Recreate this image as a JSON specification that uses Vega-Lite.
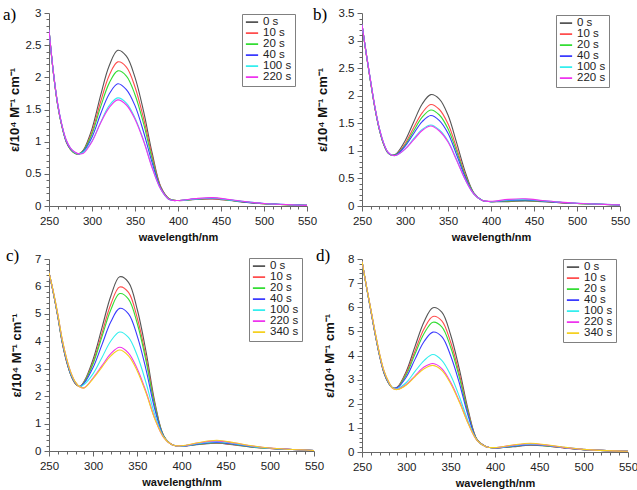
{
"$schema": "https://vega.github.io/schema/vega-lite/v6.json",
"background": "white",
"padding": {"left": 3, "top": 6, "right": 2, "bottom": 2},
"bounds": "flush",
"columns": 2,
"spacing": {"row": 53, "column": 48},
"resolve": {"scale": {"color": "independent"}, "legend": {"color": "independent"}},
"datasets": {
"a": [
{"t":"0 s","w":250,"e":2.74},{"t":"0 s","w":255,"e":2.08},{"t":"0 s","w":260,"e":1.58},{"t":"0 s","w":265,"e":1.24},{"t":"0 s","w":270,"e":1.00},{"t":"0 s","w":275,"e":0.88},{"t":"0 s","w":280,"e":0.82},{"t":"0 s","w":285,"e":0.81},{"t":"0 s","w":290,"e":0.87},{"t":"0 s","w":300,"e":1.20},{"t":"0 s","w":310,"e":1.72},{"t":"0 s","w":320,"e":2.18},{"t":"0 s","w":330,"e":2.42},{"t":"0 s","w":340,"e":2.33},{"t":"0 s","w":350,"e":2.00},{"t":"0 s","w":360,"e":1.47},{"t":"0 s","w":370,"e":0.82},{"t":"0 s","w":380,"e":0.30},{"t":"0 s","w":390,"e":0.11},{"t":"0 s","w":400,"e":0.085},{"t":"0 s","w":420,"e":0.10},{"t":"0 s","w":440,"e":0.11},{"t":"0 s","w":460,"e":0.085},{"t":"0 s","w":480,"e":0.055},{"t":"0 s","w":500,"e":0.035},{"t":"0 s","w":550,"e":0.01},
{"t":"10 s","w":250,"e":2.74},{"t":"10 s","w":255,"e":2.08},{"t":"10 s","w":260,"e":1.58},{"t":"10 s","w":265,"e":1.24},{"t":"10 s","w":270,"e":1.00},{"t":"10 s","w":275,"e":0.88},{"t":"10 s","w":280,"e":0.82},{"t":"10 s","w":285,"e":0.81},{"t":"10 s","w":290,"e":0.86},{"t":"10 s","w":300,"e":1.15},{"t":"10 s","w":310,"e":1.62},{"t":"10 s","w":320,"e":2.03},{"t":"10 s","w":330,"e":2.24},{"t":"10 s","w":340,"e":2.16},{"t":"10 s","w":350,"e":1.85},{"t":"10 s","w":360,"e":1.36},{"t":"10 s","w":370,"e":0.77},{"t":"10 s","w":380,"e":0.29},{"t":"10 s","w":390,"e":0.11},{"t":"10 s","w":400,"e":0.085},{"t":"10 s","w":420,"e":0.105},{"t":"10 s","w":440,"e":0.115},{"t":"10 s","w":460,"e":0.09},{"t":"10 s","w":480,"e":0.06},{"t":"10 s","w":500,"e":0.035},{"t":"10 s","w":550,"e":0.01},
{"t":"20 s","w":250,"e":2.74},{"t":"20 s","w":255,"e":2.08},{"t":"20 s","w":260,"e":1.58},{"t":"20 s","w":265,"e":1.24},{"t":"20 s","w":270,"e":1.01},{"t":"20 s","w":275,"e":0.88},{"t":"20 s","w":280,"e":0.82},{"t":"20 s","w":285,"e":0.81},{"t":"20 s","w":290,"e":0.86},{"t":"20 s","w":300,"e":1.12},{"t":"20 s","w":310,"e":1.54},{"t":"20 s","w":320,"e":1.91},{"t":"20 s","w":330,"e":2.10},{"t":"20 s","w":340,"e":2.02},{"t":"20 s","w":350,"e":1.73},{"t":"20 s","w":360,"e":1.28},{"t":"20 s","w":370,"e":0.73},{"t":"20 s","w":380,"e":0.28},{"t":"20 s","w":390,"e":0.11},{"t":"20 s","w":400,"e":0.085},{"t":"20 s","w":420,"e":0.105},{"t":"20 s","w":440,"e":0.12},{"t":"20 s","w":460,"e":0.09},{"t":"20 s","w":480,"e":0.06},{"t":"20 s","w":500,"e":0.035},{"t":"20 s","w":550,"e":0.01},
{"t":"40 s","w":250,"e":2.74},{"t":"40 s","w":255,"e":2.09},{"t":"40 s","w":260,"e":1.59},{"t":"40 s","w":265,"e":1.25},{"t":"40 s","w":270,"e":1.01},{"t":"40 s","w":275,"e":0.89},{"t":"40 s","w":280,"e":0.83},{"t":"40 s","w":285,"e":0.81},{"t":"40 s","w":290,"e":0.85},{"t":"40 s","w":300,"e":1.07},{"t":"40 s","w":310,"e":1.43},{"t":"40 s","w":320,"e":1.74},{"t":"40 s","w":330,"e":1.90},{"t":"40 s","w":340,"e":1.81},{"t":"40 s","w":350,"e":1.56},{"t":"40 s","w":360,"e":1.15},{"t":"40 s","w":370,"e":0.67},{"t":"40 s","w":380,"e":0.27},{"t":"40 s","w":390,"e":0.10},{"t":"40 s","w":400,"e":0.085},{"t":"40 s","w":420,"e":0.11},{"t":"40 s","w":440,"e":0.12},{"t":"40 s","w":460,"e":0.095},{"t":"40 s","w":480,"e":0.06},{"t":"40 s","w":500,"e":0.04},{"t":"40 s","w":550,"e":0.01},
{"t":"100 s","w":250,"e":2.74},{"t":"100 s","w":255,"e":2.09},{"t":"100 s","w":260,"e":1.60},{"t":"100 s","w":265,"e":1.26},{"t":"100 s","w":270,"e":1.02},{"t":"100 s","w":275,"e":0.90},{"t":"100 s","w":280,"e":0.83},{"t":"100 s","w":285,"e":0.81},{"t":"100 s","w":290,"e":0.835},{"t":"100 s","w":300,"e":1.01},{"t":"100 s","w":310,"e":1.30},{"t":"100 s","w":320,"e":1.56},{"t":"100 s","w":330,"e":1.68},{"t":"100 s","w":340,"e":1.60},{"t":"100 s","w":350,"e":1.37},{"t":"100 s","w":360,"e":1.02},{"t":"100 s","w":370,"e":0.60},{"t":"100 s","w":380,"e":0.26},{"t":"100 s","w":390,"e":0.10},{"t":"100 s","w":400,"e":0.085},{"t":"100 s","w":420,"e":0.11},{"t":"100 s","w":440,"e":0.125},{"t":"100 s","w":460,"e":0.095},{"t":"100 s","w":480,"e":0.065},{"t":"100 s","w":500,"e":0.04},{"t":"100 s","w":550,"e":0.01},
{"t":"220 s","w":250,"e":2.74},{"t":"220 s","w":255,"e":2.09},{"t":"220 s","w":260,"e":1.60},{"t":"220 s","w":265,"e":1.26},{"t":"220 s","w":270,"e":1.03},{"t":"220 s","w":275,"e":0.90},{"t":"220 s","w":280,"e":0.84},{"t":"220 s","w":285,"e":0.81},{"t":"220 s","w":290,"e":0.82},{"t":"220 s","w":300,"e":1.00},{"t":"220 s","w":310,"e":1.29},{"t":"220 s","w":320,"e":1.53},{"t":"220 s","w":330,"e":1.65},{"t":"220 s","w":340,"e":1.57},{"t":"220 s","w":350,"e":1.35},{"t":"220 s","w":360,"e":1.01},{"t":"220 s","w":370,"e":0.59},{"t":"220 s","w":380,"e":0.26},{"t":"220 s","w":390,"e":0.10},{"t":"220 s","w":400,"e":0.085},{"t":"220 s","w":420,"e":0.115},{"t":"220 s","w":440,"e":0.13},{"t":"220 s","w":460,"e":0.10},{"t":"220 s","w":480,"e":0.065},{"t":"220 s","w":500,"e":0.04},{"t":"220 s","w":550,"e":0.01}
],
"b": [
{"t":"0 s","w":250,"e":3.29},{"t":"0 s","w":255,"e":2.75},{"t":"0 s","w":260,"e":2.25},{"t":"0 s","w":265,"e":1.78},{"t":"0 s","w":270,"e":1.40},{"t":"0 s","w":275,"e":1.13},{"t":"0 s","w":280,"e":0.97},{"t":"0 s","w":285,"e":0.92},{"t":"0 s","w":290,"e":0.95},{"t":"0 s","w":300,"e":1.18},{"t":"0 s","w":310,"e":1.52},{"t":"0 s","w":320,"e":1.85},{"t":"0 s","w":330,"e":2.02},{"t":"0 s","w":340,"e":1.94},{"t":"0 s","w":350,"e":1.65},{"t":"0 s","w":360,"e":1.15},{"t":"0 s","w":370,"e":0.62},{"t":"0 s","w":380,"e":0.24},{"t":"0 s","w":390,"e":0.10},{"t":"0 s","w":400,"e":0.08},{"t":"0 s","w":420,"e":0.08},{"t":"0 s","w":440,"e":0.09},{"t":"0 s","w":460,"e":0.08},{"t":"0 s","w":480,"e":0.06},{"t":"0 s","w":500,"e":0.045},{"t":"0 s","w":550,"e":0.02},
{"t":"10 s","w":250,"e":3.29},{"t":"10 s","w":255,"e":2.75},{"t":"10 s","w":260,"e":2.25},{"t":"10 s","w":265,"e":1.78},{"t":"10 s","w":270,"e":1.40},{"t":"10 s","w":275,"e":1.13},{"t":"10 s","w":280,"e":0.97},{"t":"10 s","w":285,"e":0.92},{"t":"10 s","w":290,"e":0.94},{"t":"10 s","w":300,"e":1.13},{"t":"10 s","w":310,"e":1.42},{"t":"10 s","w":320,"e":1.69},{"t":"10 s","w":330,"e":1.84},{"t":"10 s","w":340,"e":1.75},{"t":"10 s","w":350,"e":1.49},{"t":"10 s","w":360,"e":1.05},{"t":"10 s","w":370,"e":0.57},{"t":"10 s","w":380,"e":0.23},{"t":"10 s","w":390,"e":0.10},{"t":"10 s","w":400,"e":0.08},{"t":"10 s","w":420,"e":0.09},{"t":"10 s","w":440,"e":0.10},{"t":"10 s","w":460,"e":0.085},{"t":"10 s","w":480,"e":0.06},{"t":"10 s","w":500,"e":0.045},{"t":"10 s","w":550,"e":0.02},
{"t":"20 s","w":250,"e":3.29},{"t":"20 s","w":255,"e":2.75},{"t":"20 s","w":260,"e":2.25},{"t":"20 s","w":265,"e":1.78},{"t":"20 s","w":270,"e":1.40},{"t":"20 s","w":275,"e":1.13},{"t":"20 s","w":280,"e":0.97},{"t":"20 s","w":285,"e":0.92},{"t":"20 s","w":290,"e":0.94},{"t":"20 s","w":300,"e":1.10},{"t":"20 s","w":310,"e":1.36},{"t":"20 s","w":320,"e":1.61},{"t":"20 s","w":330,"e":1.74},{"t":"20 s","w":340,"e":1.65},{"t":"20 s","w":350,"e":1.40},{"t":"20 s","w":360,"e":0.99},{"t":"20 s","w":370,"e":0.55},{"t":"20 s","w":380,"e":0.23},{"t":"20 s","w":390,"e":0.10},{"t":"20 s","w":400,"e":0.08},{"t":"20 s","w":420,"e":0.09},{"t":"20 s","w":440,"e":0.10},{"t":"20 s","w":460,"e":0.085},{"t":"20 s","w":480,"e":0.065},{"t":"20 s","w":500,"e":0.045},{"t":"20 s","w":550,"e":0.02},
{"t":"40 s","w":250,"e":3.29},{"t":"40 s","w":255,"e":2.76},{"t":"40 s","w":260,"e":2.26},{"t":"40 s","w":265,"e":1.79},{"t":"40 s","w":270,"e":1.41},{"t":"40 s","w":275,"e":1.14},{"t":"40 s","w":280,"e":0.97},{"t":"40 s","w":285,"e":0.92},{"t":"40 s","w":290,"e":0.93},{"t":"40 s","w":300,"e":1.08},{"t":"40 s","w":310,"e":1.31},{"t":"40 s","w":320,"e":1.53},{"t":"40 s","w":330,"e":1.64},{"t":"40 s","w":340,"e":1.55},{"t":"40 s","w":350,"e":1.32},{"t":"40 s","w":360,"e":0.93},{"t":"40 s","w":370,"e":0.52},{"t":"40 s","w":380,"e":0.22},{"t":"40 s","w":390,"e":0.10},{"t":"40 s","w":400,"e":0.08},{"t":"40 s","w":420,"e":0.10},{"t":"40 s","w":440,"e":0.11},{"t":"40 s","w":460,"e":0.09},{"t":"40 s","w":480,"e":0.065},{"t":"40 s","w":500,"e":0.05},{"t":"40 s","w":550,"e":0.02},
{"t":"100 s","w":250,"e":3.29},{"t":"100 s","w":255,"e":2.76},{"t":"100 s","w":260,"e":2.27},{"t":"100 s","w":265,"e":1.80},{"t":"100 s","w":270,"e":1.42},{"t":"100 s","w":275,"e":1.15},{"t":"100 s","w":280,"e":0.98},{"t":"100 s","w":285,"e":0.92},{"t":"100 s","w":290,"e":0.92},{"t":"100 s","w":300,"e":1.03},{"t":"100 s","w":310,"e":1.22},{"t":"100 s","w":320,"e":1.39},{"t":"100 s","w":330,"e":1.47},{"t":"100 s","w":340,"e":1.38},{"t":"100 s","w":350,"e":1.18},{"t":"100 s","w":360,"e":0.84},{"t":"100 s","w":370,"e":0.48},{"t":"100 s","w":380,"e":0.22},{"t":"100 s","w":390,"e":0.10},{"t":"100 s","w":400,"e":0.08},{"t":"100 s","w":420,"e":0.11},{"t":"100 s","w":440,"e":0.12},{"t":"100 s","w":460,"e":0.095},{"t":"100 s","w":480,"e":0.07},{"t":"100 s","w":500,"e":0.05},{"t":"100 s","w":550,"e":0.02},
{"t":"220 s","w":250,"e":3.29},{"t":"220 s","w":255,"e":2.76},{"t":"220 s","w":260,"e":2.27},{"t":"220 s","w":265,"e":1.80},{"t":"220 s","w":270,"e":1.42},{"t":"220 s","w":275,"e":1.15},{"t":"220 s","w":280,"e":0.98},{"t":"220 s","w":285,"e":0.92},{"t":"220 s","w":290,"e":0.92},{"t":"220 s","w":300,"e":1.03},{"t":"220 s","w":310,"e":1.20},{"t":"220 s","w":320,"e":1.37},{"t":"220 s","w":330,"e":1.45},{"t":"220 s","w":340,"e":1.36},{"t":"220 s","w":350,"e":1.16},{"t":"220 s","w":360,"e":0.83},{"t":"220 s","w":370,"e":0.48},{"t":"220 s","w":380,"e":0.22},{"t":"220 s","w":390,"e":0.10},{"t":"220 s","w":400,"e":0.085},{"t":"220 s","w":420,"e":0.12},{"t":"220 s","w":440,"e":0.13},{"t":"220 s","w":460,"e":0.10},{"t":"220 s","w":480,"e":0.07},{"t":"220 s","w":500,"e":0.05},{"t":"220 s","w":550,"e":0.02}
],
"c": [
{"t":"0 s","w":250,"e":6.50},{"t":"0 s","w":255,"e":5.75},{"t":"0 s","w":260,"e":4.90},{"t":"0 s","w":265,"e":3.95},{"t":"0 s","w":270,"e":3.25},{"t":"0 s","w":275,"e":2.75},{"t":"0 s","w":280,"e":2.45},{"t":"0 s","w":285,"e":2.35},{"t":"0 s","w":290,"e":2.55},{"t":"0 s","w":300,"e":3.35},{"t":"0 s","w":310,"e":4.50},{"t":"0 s","w":320,"e":5.65},{"t":"0 s","w":330,"e":6.35},{"t":"0 s","w":340,"e":6.15},{"t":"0 s","w":350,"e":5.15},{"t":"0 s","w":360,"e":3.60},{"t":"0 s","w":370,"e":1.75},{"t":"0 s","w":380,"e":0.55},{"t":"0 s","w":390,"e":0.22},{"t":"0 s","w":400,"e":0.18},{"t":"0 s","w":420,"e":0.24},{"t":"0 s","w":440,"e":0.28},{"t":"0 s","w":460,"e":0.22},{"t":"0 s","w":480,"e":0.14},{"t":"0 s","w":500,"e":0.09},{"t":"0 s","w":550,"e":0.02},
{"t":"10 s","w":250,"e":6.50},{"t":"10 s","w":255,"e":5.75},{"t":"10 s","w":260,"e":4.90},{"t":"10 s","w":265,"e":3.95},{"t":"10 s","w":270,"e":3.25},{"t":"10 s","w":275,"e":2.75},{"t":"10 s","w":280,"e":2.45},{"t":"10 s","w":285,"e":2.35},{"t":"10 s","w":290,"e":2.53},{"t":"10 s","w":300,"e":3.25},{"t":"10 s","w":310,"e":4.30},{"t":"10 s","w":320,"e":5.35},{"t":"10 s","w":330,"e":5.98},{"t":"10 s","w":340,"e":5.78},{"t":"10 s","w":350,"e":4.84},{"t":"10 s","w":360,"e":3.39},{"t":"10 s","w":370,"e":1.67},{"t":"10 s","w":380,"e":0.54},{"t":"10 s","w":390,"e":0.22},{"t":"10 s","w":400,"e":0.18},{"t":"10 s","w":420,"e":0.25},{"t":"10 s","w":440,"e":0.29},{"t":"10 s","w":460,"e":0.23},{"t":"10 s","w":480,"e":0.15},{"t":"10 s","w":500,"e":0.09},{"t":"10 s","w":550,"e":0.02},
{"t":"20 s","w":250,"e":6.50},{"t":"20 s","w":255,"e":5.75},{"t":"20 s","w":260,"e":4.91},{"t":"20 s","w":265,"e":3.97},{"t":"20 s","w":270,"e":3.27},{"t":"20 s","w":275,"e":2.76},{"t":"20 s","w":280,"e":2.46},{"t":"20 s","w":285,"e":2.35},{"t":"20 s","w":290,"e":2.51},{"t":"20 s","w":300,"e":3.19},{"t":"20 s","w":310,"e":4.17},{"t":"20 s","w":320,"e":5.15},{"t":"20 s","w":330,"e":5.74},{"t":"20 s","w":340,"e":5.54},{"t":"20 s","w":350,"e":4.64},{"t":"20 s","w":360,"e":3.26},{"t":"20 s","w":370,"e":1.61},{"t":"20 s","w":380,"e":0.54},{"t":"20 s","w":390,"e":0.22},{"t":"20 s","w":400,"e":0.18},{"t":"20 s","w":420,"e":0.25},{"t":"20 s","w":440,"e":0.30},{"t":"20 s","w":460,"e":0.24},{"t":"20 s","w":480,"e":0.15},{"t":"20 s","w":500,"e":0.10},{"t":"20 s","w":550,"e":0.02},
{"t":"40 s","w":250,"e":6.50},{"t":"40 s","w":255,"e":5.76},{"t":"40 s","w":260,"e":4.93},{"t":"40 s","w":265,"e":3.99},{"t":"40 s","w":270,"e":3.29},{"t":"40 s","w":275,"e":2.78},{"t":"40 s","w":280,"e":2.47},{"t":"40 s","w":285,"e":2.35},{"t":"40 s","w":290,"e":2.48},{"t":"40 s","w":300,"e":3.05},{"t":"40 s","w":310,"e":3.88},{"t":"40 s","w":320,"e":4.71},{"t":"40 s","w":330,"e":5.20},{"t":"40 s","w":340,"e":5.00},{"t":"40 s","w":350,"e":4.18},{"t":"40 s","w":360,"e":2.95},{"t":"40 s","w":370,"e":1.49},{"t":"40 s","w":380,"e":0.52},{"t":"40 s","w":390,"e":0.22},{"t":"40 s","w":400,"e":0.18},{"t":"40 s","w":420,"e":0.26},{"t":"40 s","w":440,"e":0.31},{"t":"40 s","w":460,"e":0.25},{"t":"40 s","w":480,"e":0.16},{"t":"40 s","w":500,"e":0.10},{"t":"40 s","w":550,"e":0.02},
{"t":"100 s","w":250,"e":6.50},{"t":"100 s","w":255,"e":5.78},{"t":"100 s","w":260,"e":4.96},{"t":"100 s","w":265,"e":4.03},{"t":"100 s","w":270,"e":3.33},{"t":"100 s","w":275,"e":2.81},{"t":"100 s","w":280,"e":2.49},{"t":"100 s","w":285,"e":2.35},{"t":"100 s","w":290,"e":2.43},{"t":"100 s","w":300,"e":2.82},{"t":"100 s","w":310,"e":3.41},{"t":"100 s","w":320,"e":4.01},{"t":"100 s","w":330,"e":4.34},{"t":"100 s","w":340,"e":4.14},{"t":"100 s","w":350,"e":3.47},{"t":"100 s","w":360,"e":2.47},{"t":"100 s","w":370,"e":1.30},{"t":"100 s","w":380,"e":0.51},{"t":"100 s","w":390,"e":0.22},{"t":"100 s","w":400,"e":0.18},{"t":"100 s","w":420,"e":0.28},{"t":"100 s","w":440,"e":0.34},{"t":"100 s","w":460,"e":0.27},{"t":"100 s","w":480,"e":0.17},{"t":"100 s","w":500,"e":0.10},{"t":"100 s","w":550,"e":0.02},
{"t":"220 s","w":250,"e":6.50},{"t":"220 s","w":255,"e":5.79},{"t":"220 s","w":260,"e":4.98},{"t":"220 s","w":265,"e":4.06},{"t":"220 s","w":270,"e":3.36},{"t":"220 s","w":275,"e":2.84},{"t":"220 s","w":280,"e":2.50},{"t":"220 s","w":285,"e":2.33},{"t":"220 s","w":290,"e":2.31},{"t":"220 s","w":300,"e":2.67},{"t":"220 s","w":310,"e":3.11},{"t":"220 s","w":320,"e":3.55},{"t":"220 s","w":330,"e":3.78},{"t":"220 s","w":340,"e":3.57},{"t":"220 s","w":350,"e":2.99},{"t":"220 s","w":360,"e":2.15},{"t":"220 s","w":370,"e":1.17},{"t":"220 s","w":380,"e":0.49},{"t":"220 s","w":390,"e":0.22},{"t":"220 s","w":400,"e":0.19},{"t":"220 s","w":420,"e":0.30},{"t":"220 s","w":440,"e":0.37},{"t":"220 s","w":460,"e":0.29},{"t":"220 s","w":480,"e":0.18},{"t":"220 s","w":500,"e":0.11},{"t":"220 s","w":550,"e":0.02},
{"t":"340 s","w":250,"e":6.50},{"t":"340 s","w":255,"e":5.80},{"t":"340 s","w":260,"e":4.99},{"t":"340 s","w":265,"e":4.07},{"t":"340 s","w":270,"e":3.37},{"t":"340 s","w":275,"e":2.85},{"t":"340 s","w":280,"e":2.51},{"t":"340 s","w":285,"e":2.33},{"t":"340 s","w":290,"e":2.30},{"t":"340 s","w":300,"e":2.64},{"t":"340 s","w":310,"e":3.06},{"t":"340 s","w":320,"e":3.47},{"t":"340 s","w":330,"e":3.68},{"t":"340 s","w":340,"e":3.47},{"t":"340 s","w":350,"e":2.91},{"t":"340 s","w":360,"e":2.10},{"t":"340 s","w":370,"e":1.15},{"t":"340 s","w":380,"e":0.49},{"t":"340 s","w":390,"e":0.22},{"t":"340 s","w":400,"e":0.19},{"t":"340 s","w":420,"e":0.31},{"t":"340 s","w":440,"e":0.39},{"t":"340 s","w":460,"e":0.30},{"t":"340 s","w":480,"e":0.19},{"t":"340 s","w":500,"e":0.11},{"t":"340 s","w":550,"e":0.02}
],
"d": [
{"t":"0 s","w":250,"e":7.90},{"t":"0 s","w":255,"e":6.85},{"t":"0 s","w":260,"e":5.85},{"t":"0 s","w":265,"e":4.85},{"t":"0 s","w":270,"e":3.95},{"t":"0 s","w":275,"e":3.25},{"t":"0 s","w":280,"e":2.85},{"t":"0 s","w":285,"e":2.65},{"t":"0 s","w":290,"e":2.70},{"t":"0 s","w":300,"e":3.35},{"t":"0 s","w":310,"e":4.40},{"t":"0 s","w":320,"e":5.40},{"t":"0 s","w":330,"e":5.98},{"t":"0 s","w":340,"e":5.80},{"t":"0 s","w":350,"e":4.85},{"t":"0 s","w":360,"e":3.40},{"t":"0 s","w":370,"e":1.70},{"t":"0 s","w":380,"e":0.50},{"t":"0 s","w":390,"e":0.22},{"t":"0 s","w":400,"e":0.17},{"t":"0 s","w":420,"e":0.22},{"t":"0 s","w":440,"e":0.28},{"t":"0 s","w":460,"e":0.24},{"t":"0 s","w":480,"e":0.16},{"t":"0 s","w":500,"e":0.10},{"t":"0 s","w":550,"e":0.03},
{"t":"10 s","w":250,"e":7.90},{"t":"10 s","w":255,"e":6.85},{"t":"10 s","w":260,"e":5.85},{"t":"10 s","w":265,"e":4.85},{"t":"10 s","w":270,"e":3.95},{"t":"10 s","w":275,"e":3.25},{"t":"10 s","w":280,"e":2.85},{"t":"10 s","w":285,"e":2.65},{"t":"10 s","w":290,"e":2.69},{"t":"10 s","w":300,"e":3.27},{"t":"10 s","w":310,"e":4.21},{"t":"10 s","w":320,"e":5.11},{"t":"10 s","w":330,"e":5.62},{"t":"10 s","w":340,"e":5.44},{"t":"10 s","w":350,"e":4.55},{"t":"10 s","w":360,"e":3.20},{"t":"10 s","w":370,"e":1.62},{"t":"10 s","w":380,"e":0.50},{"t":"10 s","w":390,"e":0.22},{"t":"10 s","w":400,"e":0.17},{"t":"10 s","w":420,"e":0.23},{"t":"10 s","w":440,"e":0.29},{"t":"10 s","w":460,"e":0.25},{"t":"10 s","w":480,"e":0.16},{"t":"10 s","w":500,"e":0.10},{"t":"10 s","w":550,"e":0.03},
{"t":"20 s","w":250,"e":7.90},{"t":"20 s","w":255,"e":6.85},{"t":"20 s","w":260,"e":5.86},{"t":"20 s","w":265,"e":4.86},{"t":"20 s","w":270,"e":3.97},{"t":"20 s","w":275,"e":3.27},{"t":"20 s","w":280,"e":2.86},{"t":"20 s","w":285,"e":2.65},{"t":"20 s","w":290,"e":2.68},{"t":"20 s","w":300,"e":3.21},{"t":"20 s","w":310,"e":4.08},{"t":"20 s","w":320,"e":4.91},{"t":"20 s","w":330,"e":5.38},{"t":"20 s","w":340,"e":5.19},{"t":"20 s","w":350,"e":4.34},{"t":"20 s","w":360,"e":3.06},{"t":"20 s","w":370,"e":1.56},{"t":"20 s","w":380,"e":0.49},{"t":"20 s","w":390,"e":0.22},{"t":"20 s","w":400,"e":0.17},{"t":"20 s","w":420,"e":0.23},{"t":"20 s","w":440,"e":0.30},{"t":"20 s","w":460,"e":0.25},{"t":"20 s","w":480,"e":0.17},{"t":"20 s","w":500,"e":0.10},{"t":"20 s","w":550,"e":0.03},
{"t":"40 s","w":250,"e":7.90},{"t":"40 s","w":255,"e":6.86},{"t":"40 s","w":260,"e":5.87},{"t":"40 s","w":265,"e":4.88},{"t":"40 s","w":270,"e":3.99},{"t":"40 s","w":275,"e":3.29},{"t":"40 s","w":280,"e":2.87},{"t":"40 s","w":285,"e":2.65},{"t":"40 s","w":290,"e":2.67},{"t":"40 s","w":300,"e":3.11},{"t":"40 s","w":310,"e":3.86},{"t":"40 s","w":320,"e":4.58},{"t":"40 s","w":330,"e":4.97},{"t":"40 s","w":340,"e":4.78},{"t":"40 s","w":350,"e":3.99},{"t":"40 s","w":360,"e":2.83},{"t":"40 s","w":370,"e":1.47},{"t":"40 s","w":380,"e":0.48},{"t":"40 s","w":390,"e":0.22},{"t":"40 s","w":400,"e":0.17},{"t":"40 s","w":420,"e":0.24},{"t":"40 s","w":440,"e":0.30},{"t":"40 s","w":460,"e":0.26},{"t":"40 s","w":480,"e":0.17},{"t":"40 s","w":500,"e":0.10},{"t":"40 s","w":550,"e":0.03},
{"t":"100 s","w":250,"e":7.90},{"t":"100 s","w":255,"e":6.87},{"t":"100 s","w":260,"e":5.89},{"t":"100 s","w":265,"e":4.91},{"t":"100 s","w":270,"e":4.02},{"t":"100 s","w":275,"e":3.32},{"t":"100 s","w":280,"e":2.89},{"t":"100 s","w":285,"e":2.65},{"t":"100 s","w":290,"e":2.63},{"t":"100 s","w":300,"e":2.88},{"t":"100 s","w":310,"e":3.35},{"t":"100 s","w":320,"e":3.79},{"t":"100 s","w":330,"e":4.04},{"t":"100 s","w":340,"e":3.80},{"t":"100 s","w":350,"e":3.18},{"t":"100 s","w":360,"e":2.28},{"t":"100 s","w":370,"e":1.25},{"t":"100 s","w":380,"e":0.47},{"t":"100 s","w":390,"e":0.22},{"t":"100 s","w":400,"e":0.18},{"t":"100 s","w":420,"e":0.26},{"t":"100 s","w":440,"e":0.32},{"t":"100 s","w":460,"e":0.27},{"t":"100 s","w":480,"e":0.18},{"t":"100 s","w":500,"e":0.11},{"t":"100 s","w":550,"e":0.03},
{"t":"220 s","w":250,"e":7.90},{"t":"220 s","w":255,"e":6.88},{"t":"220 s","w":260,"e":5.90},{"t":"220 s","w":265,"e":4.93},{"t":"220 s","w":270,"e":4.04},{"t":"220 s","w":275,"e":3.34},{"t":"220 s","w":280,"e":2.91},{"t":"220 s","w":285,"e":2.63},{"t":"220 s","w":290,"e":2.60},{"t":"220 s","w":300,"e":2.80},{"t":"220 s","w":310,"e":3.17},{"t":"220 s","w":320,"e":3.52},{"t":"220 s","w":330,"e":3.67},{"t":"220 s","w":340,"e":3.46},{"t":"220 s","w":350,"e":2.89},{"t":"220 s","w":360,"e":2.09},{"t":"220 s","w":370,"e":1.17},{"t":"220 s","w":380,"e":0.47},{"t":"220 s","w":390,"e":0.22},{"t":"220 s","w":400,"e":0.18},{"t":"220 s","w":420,"e":0.28},{"t":"220 s","w":440,"e":0.34},{"t":"220 s","w":460,"e":0.28},{"t":"220 s","w":480,"e":0.18},{"t":"220 s","w":500,"e":0.11},{"t":"220 s","w":550,"e":0.03},
{"t":"340 s","w":250,"e":7.90},{"t":"340 s","w":255,"e":6.88},{"t":"340 s","w":260,"e":5.91},{"t":"340 s","w":265,"e":4.94},{"t":"340 s","w":270,"e":4.05},{"t":"340 s","w":275,"e":3.35},{"t":"340 s","w":280,"e":2.92},{"t":"340 s","w":285,"e":2.63},{"t":"340 s","w":290,"e":2.59},{"t":"340 s","w":300,"e":2.78},{"t":"340 s","w":310,"e":3.13},{"t":"340 s","w":320,"e":3.45},{"t":"340 s","w":330,"e":3.59},{"t":"340 s","w":340,"e":3.38},{"t":"340 s","w":350,"e":2.83},{"t":"340 s","w":360,"e":2.05},{"t":"340 s","w":370,"e":1.16},{"t":"340 s","w":380,"e":0.47},{"t":"340 s","w":390,"e":0.22},{"t":"340 s","w":400,"e":0.18},{"t":"340 s","w":420,"e":0.29},{"t":"340 s","w":440,"e":0.36},{"t":"340 s","w":460,"e":0.29},{"t":"340 s","w":480,"e":0.19},{"t":"340 s","w":500,"e":0.11},{"t":"340 s","w":550,"e":0.03}
]
},
"concat": [
{"width": 258, "height": 193, "data": {"name": "a"},
 "title": {"text": "a)", "anchor": "start", "frame": "group", "offset": -30, "dx": -46, "font": "Liberation Serif", "fontSize": 17, "fontWeight": "normal", "color": "#000", "baseline": "alphabetic"},
 "layer": [
  {"mark": {"type": "line", "strokeWidth": 1.1, "interpolate": "catmull-rom", "clip": true},
   "encoding": {
    "x": {"field": "w", "type": "quantitative", "scale": {"domain": [250, 550], "nice": false, "zero": false}, "axis": {"values": [250,300,350,400,450,500,550], "title": "wavelength/nm", "titleFontSize": 11, "titleY": 31, "titleBaseline": "middle", "tickSize": 5, "labelPadding": 4}},
    "y": {"field": "e", "type": "quantitative", "scale": {"domain": [0, 3], "nice": false}, "axis": {"values": [0,0.5,1,1.5,2,2.5,3], "format": "~g", "title": "ε/10⁴ M⁻¹ cm⁻¹", "titleX": -35, "titleBaseline": "middle", "tickSize": 5, "labelPadding": 3}},
    "color": {"field": "t", "type": "nominal", "sort": null, "scale": {"domain": ["0 s","10 s","20 s","40 s","100 s","220 s"], "range": ["#555555","#ff4d4d","#33dd33","#3a3aff","#33eeee","#ee33ee"]}, "legend": {"title": null, "orient": "none", "legendX": 193, "legendY": 1}}
   }},
  {"mark": {"type": "line", "opacity": 0},
   "encoding": {
    "x": {"field": "w", "type": "quantitative", "axis": {"orient": "bottom", "values": [260,270,280,290,310,320,330,340,360,370,380,390,410,420,430,440,460,470,480,490,510,520,530,540], "labels": false, "title": null, "domain": false, "tickSize": 3}},
    "y": {"field": "e", "type": "quantitative", "axis": {"orient": "left", "values": [0.1,0.2,0.3,0.4,0.6,0.7,0.8,0.9,1.1,1.2,1.3,1.4,1.6,1.7,1.8,1.9,2.1,2.2,2.3,2.4,2.6,2.7,2.8,2.9], "labels": false, "title": null, "domain": false, "tickSize": 3}}
   }}
 ],
 "resolve": {"axis": {"x": "independent", "y": "independent"}}
},
{"width": 258, "height": 193, "data": {"name": "b"},
 "title": {"text": "b)", "anchor": "start", "frame": "group", "offset": -30, "dx": -49, "font": "Liberation Serif", "fontSize": 17, "fontWeight": "normal", "color": "#000", "baseline": "alphabetic"},
 "layer": [
  {"mark": {"type": "line", "strokeWidth": 1.1, "interpolate": "catmull-rom", "clip": true},
   "encoding": {
    "x": {"field": "w", "type": "quantitative", "scale": {"domain": [250, 550], "nice": false, "zero": false}, "axis": {"values": [250,300,350,400,450,500,550], "title": "wavelength/nm", "titleFontSize": 11, "titleY": 31, "titleBaseline": "middle", "tickSize": 5, "labelPadding": 4}},
    "y": {"field": "e", "type": "quantitative", "scale": {"domain": [0, 3.5], "nice": false}, "axis": {"values": [0,0.5,1,1.5,2,2.5,3,3.5], "format": "~g", "title": "ε/10⁴ M⁻¹ cm⁻¹", "titleX": -40, "titleBaseline": "middle", "tickSize": 5, "labelPadding": 3}},
    "color": {"field": "t", "type": "nominal", "sort": null, "scale": {"domain": ["0 s","10 s","20 s","40 s","100 s","220 s"], "range": ["#555555","#ff4d4d","#33dd33","#3a3aff","#33eeee","#ee33ee"]}, "legend": {"title": null, "orient": "none", "legendX": 194, "legendY": 2}}
   }},
  {"mark": {"type": "line", "opacity": 0},
   "encoding": {
    "x": {"field": "w", "type": "quantitative", "axis": {"orient": "bottom", "values": [260,270,280,290,310,320,330,340,360,370,380,390,410,420,430,440,460,470,480,490,510,520,530,540], "labels": false, "title": null, "domain": false, "tickSize": 3}},
    "y": {"field": "e", "type": "quantitative", "axis": {"orient": "left", "values": [0.1,0.2,0.3,0.4,0.6,0.7,0.8,0.9,1.1,1.2,1.3,1.4,1.6,1.7,1.8,1.9,2.1,2.2,2.3,2.4,2.6,2.7,2.8,2.9,3.1,3.2,3.3,3.4], "labels": false, "title": null, "domain": false, "tickSize": 3}}
   }}
 ],
 "resolve": {"axis": {"x": "independent", "y": "independent"}}
},
{"width": 265, "height": 192, "data": {"name": "c"},
 "title": {"text": "c)", "anchor": "start", "frame": "group", "offset": -25, "dx": -43, "font": "Liberation Serif", "fontSize": 17, "fontWeight": "normal", "color": "#000", "baseline": "alphabetic"},
 "layer": [
  {"mark": {"type": "line", "strokeWidth": 1.1, "interpolate": "catmull-rom", "clip": true},
   "encoding": {
    "x": {"field": "w", "type": "quantitative", "scale": {"domain": [250, 550], "nice": false, "zero": false}, "axis": {"values": [250,300,350,400,450,500,550], "title": "wavelength/nm", "titleFontSize": 11, "titleY": 31, "titleBaseline": "middle", "tickSize": 5, "labelPadding": 4}},
    "y": {"field": "e", "type": "quantitative", "scale": {"domain": [0, 7], "nice": false}, "axis": {"values": [0,1,2,3,4,5,6,7], "format": "~g", "title": "ε/10⁴ M⁻¹ cm⁻¹", "titleX": -33, "titleBaseline": "middle", "tickSize": 5, "labelPadding": 3}},
    "color": {"field": "t", "type": "nominal", "sort": null, "scale": {"domain": ["0 s","10 s","20 s","40 s","100 s","220 s","340 s"], "range": ["#555555","#ff4d4d","#33dd33","#3a3aff","#33eeee","#ee33ee","#f5d020"]}, "legend": {"title": null, "orient": "none", "legendX": 200, "legendY": -1}}
   }},
  {"mark": {"type": "line", "opacity": 0},
   "encoding": {
    "x": {"field": "w", "type": "quantitative", "axis": {"orient": "bottom", "values": [260,270,280,290,310,320,330,340,360,370,380,390,410,420,430,440,460,470,480,490,510,520,530,540], "labels": false, "title": null, "domain": false, "tickSize": 3}},
    "y": {"field": "e", "type": "quantitative", "axis": {"orient": "left", "values": [0.2,0.4,0.6,0.8,1.2,1.4,1.6,1.8,2.2,2.4,2.6,2.8,3.2,3.4,3.6,3.8,4.2,4.4,4.6,4.8,5.2,5.4,5.6,5.8,6.2,6.4,6.6,6.8], "labels": false, "title": null, "domain": false, "tickSize": 3}}
   }}
 ],
 "resolve": {"axis": {"x": "independent", "y": "independent"}}
},
{"width": 266, "height": 193, "data": {"name": "d"},
 "title": {"text": "d)", "anchor": "start", "frame": "group", "offset": -25, "dx": -46, "font": "Liberation Serif", "fontSize": 17, "fontWeight": "normal", "color": "#000", "baseline": "alphabetic"},
 "layer": [
  {"mark": {"type": "line", "strokeWidth": 1.1, "interpolate": "catmull-rom", "clip": true},
   "encoding": {
    "x": {"field": "w", "type": "quantitative", "scale": {"domain": [250, 550], "nice": false, "zero": false}, "axis": {"values": [250,300,350,400,450,500,550], "title": "wavelength/nm", "titleFontSize": 11, "titleY": 31, "titleBaseline": "middle", "tickSize": 5, "labelPadding": 4}},
    "y": {"field": "e", "type": "quantitative", "scale": {"domain": [0, 8], "nice": false}, "axis": {"values": [0,1,2,3,4,5,6,7,8], "format": "~g", "title": "ε/10⁴ M⁻¹ cm⁻¹", "titleX": -33, "titleBaseline": "middle", "tickSize": 5, "labelPadding": 3}},
    "color": {"field": "t", "type": "nominal", "sort": null, "scale": {"domain": ["0 s","10 s","20 s","40 s","100 s","220 s","340 s"], "range": ["#555555","#ff4d4d","#33dd33","#3a3aff","#33eeee","#ee33ee","#f5d020"]}, "legend": {"title": null, "orient": "none", "legendX": 201, "legendY": 0}}
   }},
  {"mark": {"type": "line", "opacity": 0},
   "encoding": {
    "x": {"field": "w", "type": "quantitative", "axis": {"orient": "bottom", "values": [260,270,280,290,310,320,330,340,360,370,380,390,410,420,430,440,460,470,480,490,510,520,530,540], "labels": false, "title": null, "domain": false, "tickSize": 3}},
    "y": {"field": "e", "type": "quantitative", "axis": {"orient": "left", "values": [0.2,0.4,0.6,0.8,1.2,1.4,1.6,1.8,2.2,2.4,2.6,2.8,3.2,3.4,3.6,3.8,4.2,4.4,4.6,4.8,5.2,5.4,5.6,5.8,6.2,6.4,6.6,6.8,7.2,7.4,7.6,7.8], "labels": false, "title": null, "domain": false, "tickSize": 3}}
   }}
 ],
 "resolve": {"axis": {"x": "independent", "y": "independent"}}
}
],
"config": {
 "view": {"stroke": null},
 "axis": {"labelFont": "Liberation Sans", "labelFontSize": 11.5, "labelColor": "#222", "titleFont": "Liberation Sans", "titleFontSize": 13, "titleFontWeight": "bold", "titleColor": "#111", "domainColor": "#666", "tickColor": "#666", "grid": false, "labelFlush": false, "labelOverlap": false},
 "legend": {"symbolType": "stroke", "symbolSize": 150, "symbolStrokeWidth": 1.6, "labelFont": "Liberation Sans", "labelFontSize": 11.5, "labelColor": "#222", "padding": 3, "strokeColor": "#808080", "fillColor": "#ffffff", "clipHeight": 10.3, "rowPadding": -1.2, "labelOffset": 4}
}
}
